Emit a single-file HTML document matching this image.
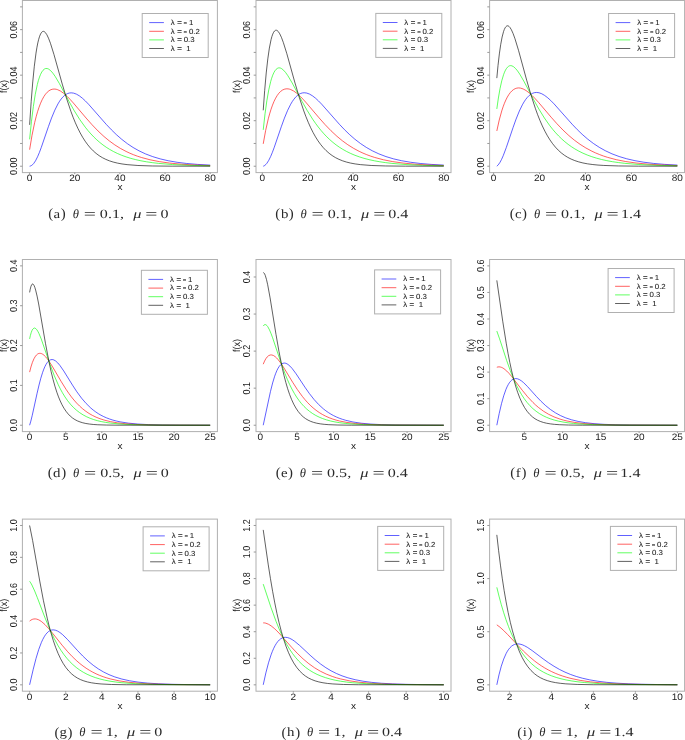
<!DOCTYPE html>
<html><head><meta charset="utf-8"><style>
html,body{margin:0;padding:0;background:#fff;}
body{width:685px;height:740px;overflow:hidden;}
svg{display:block;text-rendering:geometricPrecision;}
.r{font-family:"Liberation Sans",Arial,sans-serif;font-size:9.0px;fill:#1a1a1a;}
.rx{font-family:"Liberation Sans",Arial,sans-serif;font-size:9.4px;fill:#1a1a1a;}
.l{font-family:"Liberation Sans",Arial,sans-serif;font-size:7.4px;fill:#1a1a1a;stroke:#1a1a1a;stroke-width:0.06px;}
.c{font-family:"Liberation Serif","Times New Roman",serif;font-size:12.6px;fill:#2a2a2a;}
.i{font-style:italic;}
</style></head><body>
<svg width="685" height="740" viewBox="0 0 685 740">
<rect width="685" height="740" fill="#fff"/>
<g>
<g fill="none" stroke-width="1.0" stroke-opacity="0.62">
<path d="M29.62 166.23 30.71 165.92 31.67 165.40 32.63 164.64 33.60 163.62 35.52 160.80 37.57 156.78 39.38 152.51 41.31 147.39 48.41 126.63 51.54 118.03 54.80 110.19 57.93 103.96 59.61 101.18 61.18 98.98 62.75 97.13 64.43 95.53 66.00 94.40 67.68 93.53 69.37 93.02 71.18 92.83 73.71 93.15 76.48 94.17 79.37 95.87 82.38 98.20 85.27 100.85 88.52 104.19 106.35 124.47 111.41 129.81 116.23 134.50 121.77 139.35 127.43 143.71 133.09 147.47 138.99 150.82 145.62 153.94 152.72 156.64 160.19 158.89 168.26 160.75 177.05 162.27 186.69 163.47 197.65 164.41 210.18 165.10" stroke="#0000ff"/>
<path d="M29.62 149.67 32.03 135.25 34.68 122.52 36.13 116.75 37.57 111.69 39.02 107.29 40.58 103.19 42.15 99.73 43.84 96.64 45.52 94.16 47.21 92.23 49.01 90.71 50.94 89.66 52.87 89.13 54.92 89.07 56.24 89.28 57.69 89.72 60.58 91.13 63.71 93.34 67.20 96.45 70.09 99.40 73.35 102.99 86.11 118.05 92.02 124.71 98.04 130.97 103.94 136.47 109.36 140.95 114.78 144.87 120.32 148.35 126.10 151.45 129.84 153.19 133.57 154.75 137.43 156.18 141.52 157.51 150.07 159.79 159.35 161.62 169.59 163.07 181.15 164.18 194.40 164.99 210.18 165.55" stroke="#ff0000"/>
<path d="M29.62 139.32 31.43 121.71 33.36 106.40 35.28 94.28 37.33 84.48 38.42 80.42 39.50 77.06 40.58 74.34 41.79 72.00 42.99 70.31 44.32 69.11 45.64 68.53 46.97 68.50 47.81 68.72 48.77 69.18 50.70 70.70 52.87 73.16 55.16 76.41 59.25 83.30 69.25 101.92 74.31 110.84 79.85 119.65 85.27 127.20 88.04 130.64 90.93 133.95 93.82 136.98 96.83 139.86 99.84 142.48 102.98 144.94 106.23 147.24 109.60 149.37 113.46 151.53 117.43 153.47 121.65 155.27 126.10 156.89 130.80 158.36 135.74 159.65 140.92 160.79 146.46 161.79 152.24 162.65 158.50 163.39 172.48 164.55 189.22 165.34 210.18 165.83" stroke="#00ff00"/>
<path d="M29.62 124.84 31.19 101.35 32.75 81.91 34.32 66.20 36.01 53.08 36.85 47.87 37.81 42.92 38.66 39.40 39.62 36.25 40.58 33.94 41.55 32.40 42.63 31.51 43.11 31.37 43.71 31.40 44.44 31.72 45.28 32.45 46.85 34.71 48.53 38.23 50.46 43.31 53.95 54.45 62.26 84.10 66.36 97.84 70.94 111.51 73.10 117.27 75.39 122.85 77.80 128.18 80.21 132.96 82.62 137.23 85.15 141.21 87.80 144.85 90.45 148.02 93.22 150.88 96.11 153.42 99.12 155.65 102.37 157.65 105.75 159.35 109.36 160.82 113.21 162.06 117.43 163.10 122.01 163.95 127.07 164.63 137.91 165.49 152.24 165.97 172.12 166.17 210.18 166.22" stroke="#000000"/>
</g>
<rect x="22.40" y="0.50" width="195.00" height="172.10" fill="none" stroke="#b0b0b0" stroke-width="1.0"/>
<line x1="20.10" y1="166.23" x2="22.40" y2="166.23" stroke="#999" stroke-width="1.0"/>
<text class="r" text-anchor="middle" transform="translate(16.50,166.23) scale(1.12,1) rotate(-90)">0.00</text>
<line x1="20.10" y1="143.46" x2="22.40" y2="143.46" stroke="#999" stroke-width="1.0"/>
<line x1="20.10" y1="120.70" x2="22.40" y2="120.70" stroke="#999" stroke-width="1.0"/>
<text class="r" text-anchor="middle" transform="translate(16.50,120.70) scale(1.12,1) rotate(-90)">0.02</text>
<line x1="20.10" y1="97.93" x2="22.40" y2="97.93" stroke="#999" stroke-width="1.0"/>
<line x1="20.10" y1="75.17" x2="22.40" y2="75.17" stroke="#999" stroke-width="1.0"/>
<text class="r" text-anchor="middle" transform="translate(16.50,75.17) scale(1.12,1) rotate(-90)">0.04</text>
<line x1="20.10" y1="52.40" x2="22.40" y2="52.40" stroke="#999" stroke-width="1.0"/>
<line x1="20.10" y1="29.64" x2="22.40" y2="29.64" stroke="#999" stroke-width="1.0"/>
<text class="r" text-anchor="middle" transform="translate(16.50,29.64) scale(1.12,1) rotate(-90)">0.06</text>
<line x1="20.10" y1="6.87" x2="22.40" y2="6.87" stroke="#999" stroke-width="1.0"/>
<line x1="29.62" y1="172.60" x2="29.62" y2="174.10" stroke="#999" stroke-width="1.0"/>
<text class="rx" text-anchor="middle" transform="translate(29.62,181.20) scale(1.07,1)">0</text>
<line x1="74.76" y1="172.60" x2="74.76" y2="174.10" stroke="#999" stroke-width="1.0"/>
<text class="rx" text-anchor="middle" transform="translate(74.76,181.20) scale(1.07,1)">20</text>
<line x1="119.90" y1="172.60" x2="119.90" y2="174.10" stroke="#999" stroke-width="1.0"/>
<text class="rx" text-anchor="middle" transform="translate(119.90,181.20) scale(1.07,1)">40</text>
<line x1="165.04" y1="172.60" x2="165.04" y2="174.10" stroke="#999" stroke-width="1.0"/>
<text class="rx" text-anchor="middle" transform="translate(165.04,181.20) scale(1.07,1)">60</text>
<line x1="210.18" y1="172.60" x2="210.18" y2="174.10" stroke="#999" stroke-width="1.0"/>
<text class="rx" text-anchor="middle" transform="translate(210.18,181.20) scale(1.07,1)">80</text>
<text class="rx" text-anchor="middle" transform="translate(119.90,190.10) scale(1.07,1)">x</text>
<text class="r" text-anchor="middle" transform="translate(6.50,86.55) scale(1.12,1) rotate(-90)">f(x)</text>
<rect x="142.20" y="13.50" width="66" height="44" fill="#fff" stroke="#b0b0b0" stroke-width="1.0"/>
<g stroke-width="1.0" stroke-opacity="0.62">
<line x1="149.20" y1="22.60" x2="163.90" y2="22.60" stroke="#0000ff"/>
<line x1="149.20" y1="31.30" x2="163.90" y2="31.30" stroke="#ff0000"/>
<line x1="149.20" y1="39.90" x2="163.90" y2="39.90" stroke="#00ff00"/>
<line x1="149.20" y1="48.50" x2="163.90" y2="48.50" stroke="#000000"/>
</g>
<text class="l" transform="translate(170.75,24.90) scale(1.060,1)">λ</text>
<text class="l" transform="translate(177.22,24.90) scale(1.060,1)" style="stroke-width:0.2px">=</text>
<text class="l" transform="translate(183.53,24.90) scale(1.431,1)" style="stroke-width:0.3px">-</text>
<text class="l" transform="translate(188.90,24.90) scale(1.060,1)">1</text>
<text class="l" transform="translate(170.75,33.60) scale(1.060,1)">λ</text>
<text class="l" transform="translate(177.22,33.60) scale(1.060,1)" style="stroke-width:0.2px">=</text>
<text class="l" transform="translate(183.53,33.60) scale(1.431,1)" style="stroke-width:0.3px">-</text>
<text class="l" transform="translate(188.89,33.60) scale(1.060,1)">0.2</text>
<text class="l" transform="translate(170.75,42.20) scale(1.060,1)">λ</text>
<text class="l" transform="translate(177.22,42.20) scale(1.060,1)" style="stroke-width:0.2px">=</text>
<text class="l" transform="translate(183.69,42.20) scale(1.060,1)">0.3</text>
<text class="l" transform="translate(170.75,50.80) scale(1.060,1)">λ</text>
<text class="l" transform="translate(177.22,50.80) scale(1.060,1)" style="stroke-width:0.2px">=</text>
<text class="l" transform="translate(186.30,50.80) scale(1.060,1)">1</text>
<text class="c" transform="translate(48.29,217.95) scale(1.180,1.120)">(</text>
<text class="c" transform="translate(53.54,217.70) scale(1.180,1.000)">a</text>
<text class="c" transform="translate(60.75,217.95) scale(1.180,1.120)">)</text>
<text class="c i" transform="translate(72.63,217.70) scale(1.003,1.000)">θ</text>
<text class="c" transform="translate(83.67,217.70) scale(1.711,1.000)">=</text>
<text class="c" transform="translate(99.87,217.70) scale(1.274,1.000)">0.1,</text>
<text class="c i" transform="translate(133.16,217.70) scale(1.298,1.000)">μ</text>
<text class="c" transform="translate(145.35,217.70) scale(1.711,1.000)">=</text>
<text class="c" transform="translate(160.44,217.70) scale(1.274,1.000)">0</text>
</g>
<g>
<g fill="none" stroke-width="1.0" stroke-opacity="0.62">
<path d="M263.22 166.23 264.19 165.82 265.03 165.25 265.87 164.48 266.84 163.36 268.76 160.35 270.69 156.42 272.38 152.36 274.30 147.20 281.29 126.75 284.42 118.14 287.67 110.29 290.68 104.25 292.37 101.43 293.94 99.19 295.62 97.16 297.31 95.54 299.00 94.31 300.68 93.45 302.37 92.94 304.18 92.75 306.70 93.06 309.48 94.07 312.37 95.76 315.50 98.17 318.39 100.82 321.64 104.15 339.47 124.36 344.53 129.69 349.34 134.37 354.89 139.22 360.55 143.57 366.33 147.41 372.23 150.75 378.85 153.87 385.96 156.58 393.55 158.86 401.62 160.72 410.41 162.24 420.17 163.46 431.13 164.40 443.78 165.10" stroke="#0000ff"/>
<path d="M263.22 143.86 265.63 130.56 268.28 118.82 269.61 113.92 271.05 109.22 272.50 105.13 274.06 101.34 275.63 98.16 277.19 95.52 278.88 93.23 280.57 91.48 282.37 90.12 284.18 89.27 286.11 88.84 288.04 88.86 289.36 89.11 290.68 89.53 293.58 90.97 296.71 93.20 300.20 96.32 303.09 99.27 306.34 102.86 318.99 117.75 324.89 124.41 331.04 130.79 336.94 136.29 342.36 140.77 347.78 144.70 353.44 148.26 359.22 151.36 362.96 153.10 366.69 154.66 370.54 156.09 374.64 157.43 383.31 159.75 392.71 161.61 403.07 163.07 414.63 164.17 428.00 164.99 443.78 165.55" stroke="#ff0000"/>
<path d="M263.22 129.88 265.03 113.86 266.84 100.83 268.76 89.85 270.69 81.53 271.65 78.25 272.74 75.18 273.82 72.74 274.91 70.84 276.11 69.33 277.31 68.38 278.52 67.92 279.84 67.92 280.69 68.17 281.65 68.66 283.58 70.21 285.63 72.54 287.91 75.78 292.13 82.89 302.13 101.54 307.19 110.47 312.73 119.31 315.50 123.31 318.27 127.03 321.04 130.48 323.93 133.79 326.82 136.82 329.83 139.70 332.96 142.42 336.09 144.88 339.35 147.18 342.72 149.31 346.57 151.46 350.67 153.46 354.89 155.25 359.34 156.87 364.04 158.33 368.98 159.63 374.28 160.78 379.82 161.78 385.60 162.64 391.86 163.38 405.96 164.55 422.70 165.33 443.78 165.83" stroke="#00ff00"/>
<path d="M263.22 110.31 264.67 90.60 266.23 72.97 267.80 58.91 269.37 48.09 271.05 39.65 271.89 36.55 272.74 34.13 273.58 32.33 274.54 30.97 275.51 30.30 275.99 30.20 276.59 30.27 277.31 30.64 278.16 31.42 279.72 33.76 281.41 37.34 283.34 42.49 286.83 53.70 295.02 83.05 299.24 97.26 303.81 110.97 305.98 116.76 308.27 122.37 310.68 127.73 313.09 132.54 315.50 136.85 318.03 140.85 320.68 144.53 323.33 147.73 326.10 150.62 329.11 153.29 332.12 155.53 335.37 157.55 338.87 159.31 342.48 160.78 346.33 162.02 350.55 163.07 355.13 163.92 360.31 164.62 371.15 165.48 385.60 165.96 405.59 166.17 443.78 166.22" stroke="#000000"/>
</g>
<rect x="256.00" y="0.50" width="195.00" height="172.10" fill="none" stroke="#b0b0b0" stroke-width="1.0"/>
<line x1="253.70" y1="166.23" x2="256.00" y2="166.23" stroke="#999" stroke-width="1.0"/>
<text class="r" text-anchor="middle" transform="translate(250.10,166.23) scale(1.12,1) rotate(-90)">0.00</text>
<line x1="253.70" y1="143.46" x2="256.00" y2="143.46" stroke="#999" stroke-width="1.0"/>
<line x1="253.70" y1="120.70" x2="256.00" y2="120.70" stroke="#999" stroke-width="1.0"/>
<text class="r" text-anchor="middle" transform="translate(250.10,120.70) scale(1.12,1) rotate(-90)">0.02</text>
<line x1="253.70" y1="97.93" x2="256.00" y2="97.93" stroke="#999" stroke-width="1.0"/>
<line x1="253.70" y1="75.17" x2="256.00" y2="75.17" stroke="#999" stroke-width="1.0"/>
<text class="r" text-anchor="middle" transform="translate(250.10,75.17) scale(1.12,1) rotate(-90)">0.04</text>
<line x1="253.70" y1="52.40" x2="256.00" y2="52.40" stroke="#999" stroke-width="1.0"/>
<line x1="253.70" y1="29.64" x2="256.00" y2="29.64" stroke="#999" stroke-width="1.0"/>
<text class="r" text-anchor="middle" transform="translate(250.10,29.64) scale(1.12,1) rotate(-90)">0.06</text>
<line x1="253.70" y1="6.87" x2="256.00" y2="6.87" stroke="#999" stroke-width="1.0"/>
<line x1="262.31" y1="172.60" x2="262.31" y2="174.10" stroke="#999" stroke-width="1.0"/>
<text class="rx" text-anchor="middle" transform="translate(262.31,181.20) scale(1.07,1)">0</text>
<line x1="307.68" y1="172.60" x2="307.68" y2="174.10" stroke="#999" stroke-width="1.0"/>
<text class="rx" text-anchor="middle" transform="translate(307.68,181.20) scale(1.07,1)">20</text>
<line x1="353.05" y1="172.60" x2="353.05" y2="174.10" stroke="#999" stroke-width="1.0"/>
<text class="rx" text-anchor="middle" transform="translate(353.05,181.20) scale(1.07,1)">40</text>
<line x1="398.41" y1="172.60" x2="398.41" y2="174.10" stroke="#999" stroke-width="1.0"/>
<text class="rx" text-anchor="middle" transform="translate(398.41,181.20) scale(1.07,1)">60</text>
<line x1="443.78" y1="172.60" x2="443.78" y2="174.10" stroke="#999" stroke-width="1.0"/>
<text class="rx" text-anchor="middle" transform="translate(443.78,181.20) scale(1.07,1)">80</text>
<text class="rx" text-anchor="middle" transform="translate(353.50,190.10) scale(1.07,1)">x</text>
<text class="r" text-anchor="middle" transform="translate(240.10,86.55) scale(1.12,1) rotate(-90)">f(x)</text>
<rect x="375.80" y="13.40" width="66" height="44" fill="#fff" stroke="#b0b0b0" stroke-width="1.0"/>
<g stroke-width="1.0" stroke-opacity="0.62">
<line x1="382.80" y1="22.50" x2="397.50" y2="22.50" stroke="#0000ff"/>
<line x1="382.80" y1="31.20" x2="397.50" y2="31.20" stroke="#ff0000"/>
<line x1="382.80" y1="39.80" x2="397.50" y2="39.80" stroke="#00ff00"/>
<line x1="382.80" y1="48.40" x2="397.50" y2="48.40" stroke="#000000"/>
</g>
<text class="l" transform="translate(404.35,24.80) scale(1.060,1)">λ</text>
<text class="l" transform="translate(410.82,24.80) scale(1.060,1)" style="stroke-width:0.2px">=</text>
<text class="l" transform="translate(417.13,24.80) scale(1.431,1)" style="stroke-width:0.3px">-</text>
<text class="l" transform="translate(422.50,24.80) scale(1.060,1)">1</text>
<text class="l" transform="translate(404.35,33.50) scale(1.060,1)">λ</text>
<text class="l" transform="translate(410.82,33.50) scale(1.060,1)" style="stroke-width:0.2px">=</text>
<text class="l" transform="translate(417.13,33.50) scale(1.431,1)" style="stroke-width:0.3px">-</text>
<text class="l" transform="translate(422.49,33.50) scale(1.060,1)">0.2</text>
<text class="l" transform="translate(404.35,42.10) scale(1.060,1)">λ</text>
<text class="l" transform="translate(410.82,42.10) scale(1.060,1)" style="stroke-width:0.2px">=</text>
<text class="l" transform="translate(417.29,42.10) scale(1.060,1)">0.3</text>
<text class="l" transform="translate(404.35,50.70) scale(1.060,1)">λ</text>
<text class="l" transform="translate(410.82,50.70) scale(1.060,1)" style="stroke-width:0.2px">=</text>
<text class="l" transform="translate(419.90,50.70) scale(1.060,1)">1</text>
<text class="c" transform="translate(275.19,217.95) scale(1.180,1.120)">(</text>
<text class="c" transform="translate(280.96,217.70) scale(1.180,1.000)">b</text>
<text class="c" transform="translate(288.65,217.95) scale(1.180,1.120)">)</text>
<text class="c i" transform="translate(300.53,217.70) scale(1.003,1.000)">θ</text>
<text class="c" transform="translate(311.57,217.70) scale(1.711,1.000)">=</text>
<text class="c" transform="translate(327.76,217.70) scale(1.274,1.000)">0.1,</text>
<text class="c i" transform="translate(361.05,217.70) scale(1.298,1.000)">μ</text>
<text class="c" transform="translate(373.24,217.70) scale(1.711,1.000)">=</text>
<text class="c" transform="translate(388.34,217.70) scale(1.274,1.000)">0.4</text>
</g>
<g>
<g fill="none" stroke-width="1.0" stroke-opacity="0.62">
<path d="M496.82 166.23 498.27 164.83 499.83 162.62 501.52 159.50 503.21 155.73 506.34 147.43 513.08 127.47 516.09 119.07 519.35 111.04 522.36 104.83 524.04 101.91 525.73 99.39 527.42 97.29 529.22 95.48 530.91 94.19 532.72 93.22 534.52 92.65 536.45 92.44 538.98 92.75 541.75 93.76 544.64 95.43 547.77 97.82 550.66 100.44 554.04 103.86 572.10 124.19 577.28 129.61 582.10 134.25 587.76 139.16 593.42 143.47 599.21 147.29 605.23 150.68 611.97 153.83 619.08 156.51 626.67 158.78 634.98 160.69 643.89 162.22 653.65 163.43 664.73 164.38 677.38 165.08" stroke="#0000ff"/>
<path d="M496.82 130.98 499.23 120.08 501.76 110.89 503.09 106.86 504.41 103.32 505.86 99.97 507.30 97.12 508.75 94.72 510.31 92.58 511.88 90.90 513.44 89.63 515.13 88.68 516.82 88.12 518.62 87.92 520.43 88.09 523.08 88.92 525.97 90.49 529.10 92.82 532.48 95.90 535.25 98.75 538.50 102.34 551.15 117.21 556.93 123.73 562.95 130.01 568.85 135.55 574.39 140.16 580.05 144.30 585.84 147.95 591.86 151.18 595.59 152.93 599.45 154.53 603.42 156.01 607.52 157.34 616.19 159.66 625.70 161.54 636.06 163.00 647.87 164.14 661.36 164.96 677.38 165.54" stroke="#ff0000"/>
<path d="M496.82 108.95 498.39 97.99 500.07 88.38 501.76 80.81 503.57 74.69 504.53 72.17 505.49 70.12 506.46 68.50 507.42 67.27 508.51 66.33 509.59 65.79 510.67 65.63 511.88 65.83 513.56 66.71 515.49 68.43 517.54 70.90 519.71 74.08 523.80 81.10 533.80 99.98 538.86 109.03 544.40 117.99 549.82 125.69 552.71 129.36 555.72 132.87 558.73 136.07 561.75 139.00 564.88 141.76 568.13 144.35 571.50 146.76 574.87 148.91 578.85 151.16 582.94 153.18 587.28 155.03 591.74 156.67 596.43 158.14 601.49 159.48 606.79 160.65 612.45 161.69 618.36 162.56 624.74 163.33 638.95 164.51 655.94 165.32 677.38 165.82" stroke="#00ff00"/>
<path d="M496.82 78.11 498.03 65.45 499.35 53.93 500.68 44.70 502.12 37.00 503.57 31.53 504.29 29.54 505.13 27.79 505.86 26.75 506.70 26.03 507.54 25.79 508.39 26.00 509.11 26.51 509.83 27.28 511.40 29.78 513.08 33.52 515.01 38.82 518.50 50.31 526.69 80.23 530.91 94.74 535.49 108.77 537.65 114.71 539.94 120.47 542.35 125.98 544.88 131.17 547.41 135.80 549.94 139.90 552.59 143.67 555.36 147.09 558.25 150.16 561.26 152.88 564.40 155.25 567.65 157.30 571.14 159.09 574.75 160.59 578.73 161.89 582.94 162.96 587.64 163.85 592.82 164.56 598.00 165.07 603.78 165.45 618.36 165.95 638.59 166.16 677.38 166.22" stroke="#000000"/>
</g>
<rect x="489.60" y="0.50" width="195.00" height="172.10" fill="none" stroke="#b0b0b0" stroke-width="1.0"/>
<line x1="487.30" y1="166.23" x2="489.60" y2="166.23" stroke="#999" stroke-width="1.0"/>
<text class="r" text-anchor="middle" transform="translate(483.70,166.23) scale(1.12,1) rotate(-90)">0.00</text>
<line x1="487.30" y1="143.46" x2="489.60" y2="143.46" stroke="#999" stroke-width="1.0"/>
<line x1="487.30" y1="120.70" x2="489.60" y2="120.70" stroke="#999" stroke-width="1.0"/>
<text class="r" text-anchor="middle" transform="translate(483.70,120.70) scale(1.12,1) rotate(-90)">0.02</text>
<line x1="487.30" y1="97.93" x2="489.60" y2="97.93" stroke="#999" stroke-width="1.0"/>
<line x1="487.30" y1="75.17" x2="489.60" y2="75.17" stroke="#999" stroke-width="1.0"/>
<text class="r" text-anchor="middle" transform="translate(483.70,75.17) scale(1.12,1) rotate(-90)">0.04</text>
<line x1="487.30" y1="52.40" x2="489.60" y2="52.40" stroke="#999" stroke-width="1.0"/>
<line x1="487.30" y1="29.64" x2="489.60" y2="29.64" stroke="#999" stroke-width="1.0"/>
<text class="r" text-anchor="middle" transform="translate(483.70,29.64) scale(1.12,1) rotate(-90)">0.06</text>
<line x1="487.30" y1="6.87" x2="489.60" y2="6.87" stroke="#999" stroke-width="1.0"/>
<line x1="493.61" y1="172.60" x2="493.61" y2="174.10" stroke="#999" stroke-width="1.0"/>
<text class="rx" text-anchor="middle" transform="translate(493.61,181.20) scale(1.07,1)">0</text>
<line x1="539.55" y1="172.60" x2="539.55" y2="174.10" stroke="#999" stroke-width="1.0"/>
<text class="rx" text-anchor="middle" transform="translate(539.55,181.20) scale(1.07,1)">20</text>
<line x1="585.49" y1="172.60" x2="585.49" y2="174.10" stroke="#999" stroke-width="1.0"/>
<text class="rx" text-anchor="middle" transform="translate(585.49,181.20) scale(1.07,1)">40</text>
<line x1="631.43" y1="172.60" x2="631.43" y2="174.10" stroke="#999" stroke-width="1.0"/>
<text class="rx" text-anchor="middle" transform="translate(631.43,181.20) scale(1.07,1)">60</text>
<line x1="677.38" y1="172.60" x2="677.38" y2="174.10" stroke="#999" stroke-width="1.0"/>
<text class="rx" text-anchor="middle" transform="translate(677.38,181.20) scale(1.07,1)">80</text>
<text class="rx" text-anchor="middle" transform="translate(587.10,190.10) scale(1.07,1)">x</text>
<text class="r" text-anchor="middle" transform="translate(473.70,86.55) scale(1.12,1) rotate(-90)">f(x)</text>
<rect x="608.60" y="13.50" width="66" height="44" fill="#fff" stroke="#b0b0b0" stroke-width="1.0"/>
<g stroke-width="1.0" stroke-opacity="0.62">
<line x1="615.60" y1="22.60" x2="630.30" y2="22.60" stroke="#0000ff"/>
<line x1="615.60" y1="31.30" x2="630.30" y2="31.30" stroke="#ff0000"/>
<line x1="615.60" y1="39.90" x2="630.30" y2="39.90" stroke="#00ff00"/>
<line x1="615.60" y1="48.50" x2="630.30" y2="48.50" stroke="#000000"/>
</g>
<text class="l" transform="translate(637.15,24.90) scale(1.060,1)">λ</text>
<text class="l" transform="translate(643.62,24.90) scale(1.060,1)" style="stroke-width:0.2px">=</text>
<text class="l" transform="translate(649.93,24.90) scale(1.431,1)" style="stroke-width:0.3px">-</text>
<text class="l" transform="translate(655.30,24.90) scale(1.060,1)">1</text>
<text class="l" transform="translate(637.15,33.60) scale(1.060,1)">λ</text>
<text class="l" transform="translate(643.62,33.60) scale(1.060,1)" style="stroke-width:0.2px">=</text>
<text class="l" transform="translate(649.93,33.60) scale(1.431,1)" style="stroke-width:0.3px">-</text>
<text class="l" transform="translate(655.29,33.60) scale(1.060,1)">0.2</text>
<text class="l" transform="translate(637.15,42.20) scale(1.060,1)">λ</text>
<text class="l" transform="translate(643.62,42.20) scale(1.060,1)" style="stroke-width:0.2px">=</text>
<text class="l" transform="translate(650.09,42.20) scale(1.060,1)">0.3</text>
<text class="l" transform="translate(637.15,50.80) scale(1.060,1)">λ</text>
<text class="l" transform="translate(643.62,50.80) scale(1.060,1)" style="stroke-width:0.2px">=</text>
<text class="l" transform="translate(652.70,50.80) scale(1.060,1)">1</text>
<text class="c" transform="translate(509.83,217.95) scale(1.180,1.120)">(</text>
<text class="c" transform="translate(515.04,217.70) scale(1.180,1.000)">c</text>
<text class="c" transform="translate(522.00,217.95) scale(1.180,1.120)">)</text>
<text class="c i" transform="translate(533.88,217.70) scale(1.003,1.000)">θ</text>
<text class="c" transform="translate(544.92,217.70) scale(1.711,1.000)">=</text>
<text class="c" transform="translate(561.11,217.70) scale(1.274,1.000)">0.1,</text>
<text class="c i" transform="translate(594.41,217.70) scale(1.298,1.000)">μ</text>
<text class="c" transform="translate(606.60,217.70) scale(1.711,1.000)">=</text>
<text class="c" transform="translate(620.89,217.70) scale(1.274,1.000)">1.4</text>
</g>
<g>
<g fill="none" stroke-width="1.0" stroke-opacity="0.62">
<path d="M29.62 425.23 30.83 421.11 32.27 415.28 37.09 393.31 39.02 385.06 40.82 378.20 42.63 372.37 43.84 369.10 44.92 366.59 46.00 364.48 47.21 362.61 48.29 361.33 49.50 360.33 50.70 359.74 52.03 359.54 52.87 359.63 53.83 359.93 55.64 360.99 57.69 362.84 59.86 365.39 63.71 370.93 72.50 385.14 76.84 391.75 81.54 398.13 86.11 403.46 90.81 408.04 93.22 410.05 95.75 411.95 98.28 413.63 100.93 415.18 103.70 416.60 106.47 417.83 109.60 419.03 112.85 420.08 116.35 421.01 120.08 421.84 128.27 423.13 137.79 424.04 148.63 424.61 162.48 424.97 180.91 425.14 210.18 425.21" stroke="#0000ff"/>
<path d="M29.62 372.11 30.95 366.96 32.39 362.47 33.96 358.76 35.52 356.13 36.37 355.10 37.21 354.32 38.05 353.78 38.90 353.45 39.74 353.32 40.70 353.40 41.67 353.70 42.75 354.27 44.08 355.27 45.52 356.69 47.09 358.55 48.77 360.84 52.15 366.09 61.30 381.73 66.12 389.43 68.77 393.31 71.42 396.90 73.95 400.04 76.60 403.04 79.61 406.09 82.62 408.78 85.87 411.32 89.12 413.50 92.50 415.44 96.11 417.19 99.97 418.73 103.94 420.03 110.32 421.61 117.55 422.85 125.86 423.77 135.62 424.41 146.70 424.81 160.79 425.05 210.18 425.22" stroke="#ff0000"/>
<path d="M29.62 338.91 30.34 335.62 31.19 332.63 32.03 330.48 32.87 329.05 33.84 328.21 34.32 328.07 34.80 328.09 35.77 328.59 36.85 329.77 37.81 331.28 38.90 333.38 41.19 338.88 50.10 364.59 54.31 375.73 58.29 384.80 60.34 388.91 62.38 392.66 65.03 396.99 67.68 400.79 70.45 404.24 73.35 407.35 76.36 410.11 79.61 412.63 83.10 414.89 86.72 416.80 90.09 418.28 93.58 419.54 97.32 420.64 101.29 421.58 105.63 422.39 110.32 423.07 121.04 424.08 133.21 424.68 149.23 425.02 171.15 425.17 210.18 425.22" stroke="#00ff00"/>
<path d="M29.62 292.43 30.22 289.19 30.95 286.41 31.67 284.73 32.03 284.26 32.39 284.02 32.75 284.00 33.12 284.18 33.96 285.30 34.80 287.31 35.64 290.05 37.09 296.08 38.66 303.99 45.52 343.67 49.14 362.55 51.06 371.36 52.99 379.23 54.92 386.19 56.84 392.26 58.53 396.90 60.22 400.97 62.02 404.75 63.95 408.20 66.00 411.28 68.05 413.84 70.21 416.07 72.62 418.07 74.91 419.58 77.32 420.85 79.97 421.92 82.74 422.78 85.87 423.49 89.37 424.04 93.22 424.46 97.80 424.77 106.71 425.06 119.96 425.19 210.18 425.23" stroke="#000000"/>
</g>
<rect x="22.40" y="259.50" width="195.00" height="172.10" fill="none" stroke="#b0b0b0" stroke-width="1.0"/>
<line x1="20.10" y1="425.23" x2="22.40" y2="425.23" stroke="#999" stroke-width="1.0"/>
<text class="r" text-anchor="middle" transform="translate(16.50,425.23) scale(1.12,1) rotate(-90)">0.0</text>
<line x1="20.10" y1="385.39" x2="22.40" y2="385.39" stroke="#999" stroke-width="1.0"/>
<text class="r" text-anchor="middle" transform="translate(16.50,385.39) scale(1.12,1) rotate(-90)">0.1</text>
<line x1="20.10" y1="345.55" x2="22.40" y2="345.55" stroke="#999" stroke-width="1.0"/>
<text class="r" text-anchor="middle" transform="translate(16.50,345.55) scale(1.12,1) rotate(-90)">0.2</text>
<line x1="20.10" y1="305.71" x2="22.40" y2="305.71" stroke="#999" stroke-width="1.0"/>
<text class="r" text-anchor="middle" transform="translate(16.50,305.71) scale(1.12,1) rotate(-90)">0.3</text>
<line x1="20.10" y1="265.87" x2="22.40" y2="265.87" stroke="#999" stroke-width="1.0"/>
<text class="r" text-anchor="middle" transform="translate(16.50,265.87) scale(1.12,1) rotate(-90)">0.4</text>
<line x1="29.62" y1="431.60" x2="29.62" y2="433.10" stroke="#999" stroke-width="1.0"/>
<text class="rx" text-anchor="middle" transform="translate(29.62,440.20) scale(1.07,1)">0</text>
<line x1="65.73" y1="431.60" x2="65.73" y2="433.10" stroke="#999" stroke-width="1.0"/>
<text class="rx" text-anchor="middle" transform="translate(65.73,440.20) scale(1.07,1)">5</text>
<line x1="101.84" y1="431.60" x2="101.84" y2="433.10" stroke="#999" stroke-width="1.0"/>
<text class="rx" text-anchor="middle" transform="translate(101.84,440.20) scale(1.07,1)">10</text>
<line x1="137.96" y1="431.60" x2="137.96" y2="433.10" stroke="#999" stroke-width="1.0"/>
<text class="rx" text-anchor="middle" transform="translate(137.96,440.20) scale(1.07,1)">15</text>
<line x1="174.07" y1="431.60" x2="174.07" y2="433.10" stroke="#999" stroke-width="1.0"/>
<text class="rx" text-anchor="middle" transform="translate(174.07,440.20) scale(1.07,1)">20</text>
<line x1="210.18" y1="431.60" x2="210.18" y2="433.10" stroke="#999" stroke-width="1.0"/>
<text class="rx" text-anchor="middle" transform="translate(210.18,440.20) scale(1.07,1)">25</text>
<text class="rx" text-anchor="middle" transform="translate(119.90,449.10) scale(1.07,1)">x</text>
<text class="r" text-anchor="middle" transform="translate(6.50,345.55) scale(1.12,1) rotate(-90)">f(x)</text>
<rect x="141.40" y="270.30" width="66" height="44" fill="#fff" stroke="#b0b0b0" stroke-width="1.0"/>
<g stroke-width="1.0" stroke-opacity="0.62">
<line x1="148.40" y1="279.40" x2="163.10" y2="279.40" stroke="#0000ff"/>
<line x1="148.40" y1="288.10" x2="163.10" y2="288.10" stroke="#ff0000"/>
<line x1="148.40" y1="296.70" x2="163.10" y2="296.70" stroke="#00ff00"/>
<line x1="148.40" y1="305.30" x2="163.10" y2="305.30" stroke="#000000"/>
</g>
<text class="l" transform="translate(169.95,281.70) scale(1.060,1)">λ</text>
<text class="l" transform="translate(176.42,281.70) scale(1.060,1)" style="stroke-width:0.2px">=</text>
<text class="l" transform="translate(182.73,281.70) scale(1.431,1)" style="stroke-width:0.3px">-</text>
<text class="l" transform="translate(188.10,281.70) scale(1.060,1)">1</text>
<text class="l" transform="translate(169.95,290.40) scale(1.060,1)">λ</text>
<text class="l" transform="translate(176.42,290.40) scale(1.060,1)" style="stroke-width:0.2px">=</text>
<text class="l" transform="translate(182.73,290.40) scale(1.431,1)" style="stroke-width:0.3px">-</text>
<text class="l" transform="translate(188.09,290.40) scale(1.060,1)">0.2</text>
<text class="l" transform="translate(169.95,299.00) scale(1.060,1)">λ</text>
<text class="l" transform="translate(176.42,299.00) scale(1.060,1)" style="stroke-width:0.2px">=</text>
<text class="l" transform="translate(182.89,299.00) scale(1.060,1)">0.3</text>
<text class="l" transform="translate(169.95,307.60) scale(1.060,1)">λ</text>
<text class="l" transform="translate(176.42,307.60) scale(1.060,1)" style="stroke-width:0.2px">=</text>
<text class="l" transform="translate(185.50,307.60) scale(1.060,1)">1</text>
<text class="c" transform="translate(47.87,476.95) scale(1.180,1.120)">(</text>
<text class="c" transform="translate(53.10,476.70) scale(1.180,1.000)">d</text>
<text class="c" transform="translate(61.17,476.95) scale(1.180,1.120)">)</text>
<text class="c i" transform="translate(73.05,476.70) scale(1.003,1.000)">θ</text>
<text class="c" transform="translate(84.09,476.70) scale(1.711,1.000)">=</text>
<text class="c" transform="translate(100.29,476.70) scale(1.274,1.000)">0.5,</text>
<text class="c i" transform="translate(133.58,476.70) scale(1.298,1.000)">μ</text>
<text class="c" transform="translate(145.77,476.70) scale(1.711,1.000)">=</text>
<text class="c" transform="translate(160.86,476.70) scale(1.274,1.000)">0</text>
</g>
<g>
<g fill="none" stroke-width="1.0" stroke-opacity="0.62">
<path d="M263.22 425.23 270.45 391.58 272.62 382.99 274.67 376.25 275.75 373.27 276.95 370.43 278.16 368.09 279.36 366.23 280.57 364.83 281.77 363.85 282.98 363.28 284.30 363.07 285.14 363.14 286.11 363.41 287.91 364.38 289.96 366.10 292.13 368.48 296.11 373.83 304.90 387.15 309.35 393.51 314.05 399.49 318.63 404.50 323.45 408.90 325.86 410.79 328.39 412.56 330.92 414.14 333.57 415.61 336.34 416.95 339.23 418.16 342.36 419.29 345.73 420.31 352.96 421.97 361.27 423.22 370.91 424.09 381.87 424.64 395.84 424.97 443.78 425.21" stroke="#0000ff"/>
<path d="M263.22 364.19 264.55 361.08 265.87 358.68 267.20 356.92 268.64 355.67 270.21 355.00 271.77 354.96 273.46 355.53 275.15 356.63 276.47 357.82 277.80 359.24 280.69 362.98 283.94 367.91 292.73 382.37 297.31 389.46 302.37 396.45 304.78 399.42 307.31 402.29 310.20 405.25 313.09 407.89 316.10 410.32 319.23 412.53 322.36 414.44 325.74 416.21 329.23 417.75 332.84 419.09 336.09 420.10 339.59 421.01 347.06 422.46 355.61 423.54 365.73 424.30 377.17 424.76 391.86 425.03 443.78 425.22" stroke="#ff0000"/>
<path d="M263.22 326.04 263.94 325.12 264.67 324.65 265.39 324.59 266.11 324.88 266.84 325.49 267.68 326.56 269.49 329.86 270.93 333.25 272.62 337.78 280.57 361.55 284.90 373.43 287.31 379.32 289.60 384.41 291.89 389.01 294.30 393.36 296.59 397.04 299.00 400.49 301.53 403.68 304.05 406.47 306.70 409.02 309.60 411.42 312.61 413.55 315.74 415.43 319.11 417.12 322.60 418.57 326.46 419.87 330.55 420.99 335.01 421.94 339.83 422.73 345.13 423.39 350.91 423.92 363.44 424.60 379.94 424.99 402.70 425.17 443.78 425.22" stroke="#00ff00"/>
<path d="M263.22 272.63 263.70 272.74 264.19 273.21 264.67 274.00 265.27 275.41 266.47 279.44 267.68 284.73 270.09 297.85 275.99 334.39 279.00 351.65 282.37 368.39 284.06 375.64 285.87 382.59 287.67 388.73 289.60 394.45 291.65 399.66 293.70 404.08 295.86 408.00 298.15 411.42 300.56 414.33 303.21 416.87 305.50 418.60 308.03 420.12 310.68 421.36 313.57 422.38 316.70 423.19 320.20 423.83 324.17 424.32 328.87 424.69 337.90 425.03 351.51 425.19 443.78 425.23" stroke="#000000"/>
</g>
<rect x="256.00" y="259.50" width="195.00" height="172.10" fill="none" stroke="#b0b0b0" stroke-width="1.0"/>
<line x1="253.70" y1="425.23" x2="256.00" y2="425.23" stroke="#999" stroke-width="1.0"/>
<text class="r" text-anchor="middle" transform="translate(250.10,425.23) scale(1.12,1) rotate(-90)">0.0</text>
<line x1="253.70" y1="388.17" x2="256.00" y2="388.17" stroke="#999" stroke-width="1.0"/>
<text class="r" text-anchor="middle" transform="translate(250.10,388.17) scale(1.12,1) rotate(-90)">0.1</text>
<line x1="253.70" y1="351.11" x2="256.00" y2="351.11" stroke="#999" stroke-width="1.0"/>
<text class="r" text-anchor="middle" transform="translate(250.10,351.11) scale(1.12,1) rotate(-90)">0.2</text>
<line x1="253.70" y1="314.05" x2="256.00" y2="314.05" stroke="#999" stroke-width="1.0"/>
<text class="r" text-anchor="middle" transform="translate(250.10,314.05) scale(1.12,1) rotate(-90)">0.3</text>
<line x1="253.70" y1="276.99" x2="256.00" y2="276.99" stroke="#999" stroke-width="1.0"/>
<text class="r" text-anchor="middle" transform="translate(250.10,276.99) scale(1.12,1) rotate(-90)">0.4</text>
<line x1="260.29" y1="431.60" x2="260.29" y2="433.10" stroke="#999" stroke-width="1.0"/>
<text class="rx" text-anchor="middle" transform="translate(260.29,440.20) scale(1.07,1)">0</text>
<line x1="296.98" y1="431.60" x2="296.98" y2="433.10" stroke="#999" stroke-width="1.0"/>
<text class="rx" text-anchor="middle" transform="translate(296.98,440.20) scale(1.07,1)">5</text>
<line x1="333.68" y1="431.60" x2="333.68" y2="433.10" stroke="#999" stroke-width="1.0"/>
<text class="rx" text-anchor="middle" transform="translate(333.68,440.20) scale(1.07,1)">10</text>
<line x1="370.38" y1="431.60" x2="370.38" y2="433.10" stroke="#999" stroke-width="1.0"/>
<text class="rx" text-anchor="middle" transform="translate(370.38,440.20) scale(1.07,1)">15</text>
<line x1="407.08" y1="431.60" x2="407.08" y2="433.10" stroke="#999" stroke-width="1.0"/>
<text class="rx" text-anchor="middle" transform="translate(407.08,440.20) scale(1.07,1)">20</text>
<line x1="443.78" y1="431.60" x2="443.78" y2="433.10" stroke="#999" stroke-width="1.0"/>
<text class="rx" text-anchor="middle" transform="translate(443.78,440.20) scale(1.07,1)">25</text>
<text class="rx" text-anchor="middle" transform="translate(353.50,449.10) scale(1.07,1)">x</text>
<text class="r" text-anchor="middle" transform="translate(240.10,345.55) scale(1.12,1) rotate(-90)">f(x)</text>
<rect x="374.60" y="269.90" width="66" height="44" fill="#fff" stroke="#b0b0b0" stroke-width="1.0"/>
<g stroke-width="1.0" stroke-opacity="0.62">
<line x1="381.60" y1="279.00" x2="396.30" y2="279.00" stroke="#0000ff"/>
<line x1="381.60" y1="287.70" x2="396.30" y2="287.70" stroke="#ff0000"/>
<line x1="381.60" y1="296.30" x2="396.30" y2="296.30" stroke="#00ff00"/>
<line x1="381.60" y1="304.90" x2="396.30" y2="304.90" stroke="#000000"/>
</g>
<text class="l" transform="translate(403.15,281.30) scale(1.060,1)">λ</text>
<text class="l" transform="translate(409.62,281.30) scale(1.060,1)" style="stroke-width:0.2px">=</text>
<text class="l" transform="translate(415.93,281.30) scale(1.431,1)" style="stroke-width:0.3px">-</text>
<text class="l" transform="translate(421.30,281.30) scale(1.060,1)">1</text>
<text class="l" transform="translate(403.15,290.00) scale(1.060,1)">λ</text>
<text class="l" transform="translate(409.62,290.00) scale(1.060,1)" style="stroke-width:0.2px">=</text>
<text class="l" transform="translate(415.93,290.00) scale(1.431,1)" style="stroke-width:0.3px">-</text>
<text class="l" transform="translate(421.29,290.00) scale(1.060,1)">0.2</text>
<text class="l" transform="translate(403.15,298.60) scale(1.060,1)">λ</text>
<text class="l" transform="translate(409.62,298.60) scale(1.060,1)" style="stroke-width:0.2px">=</text>
<text class="l" transform="translate(416.09,298.60) scale(1.060,1)">0.3</text>
<text class="l" transform="translate(403.15,307.20) scale(1.060,1)">λ</text>
<text class="l" transform="translate(409.62,307.20) scale(1.060,1)" style="stroke-width:0.2px">=</text>
<text class="l" transform="translate(418.70,307.20) scale(1.060,1)">1</text>
<text class="c" transform="translate(275.87,476.95) scale(1.180,1.120)">(</text>
<text class="c" transform="translate(281.06,476.70) scale(1.180,1.000)">e</text>
<text class="c" transform="translate(287.97,476.95) scale(1.180,1.120)">)</text>
<text class="c i" transform="translate(299.85,476.70) scale(1.003,1.000)">θ</text>
<text class="c" transform="translate(310.88,476.70) scale(1.711,1.000)">=</text>
<text class="c" transform="translate(327.08,476.70) scale(1.274,1.000)">0.5,</text>
<text class="c i" transform="translate(360.37,476.70) scale(1.298,1.000)">μ</text>
<text class="c" transform="translate(372.56,476.70) scale(1.711,1.000)">=</text>
<text class="c" transform="translate(387.66,476.70) scale(1.274,1.000)">0.4</text>
</g>
<g>
<g fill="none" stroke-width="1.0" stroke-opacity="0.62">
<path d="M496.82 425.23 499.23 413.39 501.52 403.59 503.69 395.83 505.98 389.33 507.06 386.85 508.27 384.52 509.35 382.79 510.55 381.25 511.76 380.09 513.08 379.21 514.41 378.71 515.73 378.56 517.54 378.82 519.35 379.56 521.39 380.85 523.56 382.62 527.42 386.44 536.45 396.51 540.91 401.18 545.73 405.69 550.42 409.47 555.36 412.79 560.42 415.56 565.72 417.86 571.50 419.79 578.13 421.42 585.59 422.70 594.03 423.65 604.02 424.33 615.23 424.76 629.44 425.02 677.38 425.21" stroke="#0000ff"/>
<path d="M496.82 367.28 497.91 366.96 498.99 366.85 500.19 366.97 501.40 367.32 502.60 367.87 503.93 368.68 506.82 371.09 509.11 373.48 511.76 376.61 522.36 390.39 527.54 396.69 532.96 402.49 535.61 405.00 538.38 407.39 543.32 411.08 548.50 414.23 554.04 416.90 559.94 419.09 563.43 420.12 567.04 421.01 574.87 422.46 583.91 423.55 594.63 424.31 606.67 424.76 622.09 425.04 677.38 425.22" stroke="#ff0000"/>
<path d="M496.82 331.06 499.59 338.85 506.70 360.56 510.19 370.38 512.48 376.23 514.65 381.31 516.82 385.95 519.11 390.38 521.64 394.74 524.28 398.76 527.06 402.43 529.95 405.72 532.96 408.66 536.09 411.26 539.46 413.60 543.08 415.68 546.57 417.34 550.18 418.76 554.16 420.03 558.37 421.10 562.95 422.02 568.01 422.81 573.55 423.45 579.57 423.96 592.70 424.62 610.05 425.00 634.02 425.17 677.38 425.22" stroke="#00ff00"/>
<path d="M496.82 280.36 502.72 321.20 506.22 343.19 508.02 353.33 509.83 362.56 511.64 370.87 513.56 378.74 515.61 386.05 517.66 392.36 519.83 398.06 522.12 403.11 524.53 407.50 527.06 411.24 529.71 414.36 532.60 417.02 535.01 418.75 537.53 420.19 540.30 421.42 543.32 422.43 546.57 423.23 550.30 423.87 554.40 424.35 559.22 424.70 568.61 425.04 582.70 425.19 677.38 425.23" stroke="#000000"/>
</g>
<rect x="489.60" y="259.50" width="195.00" height="172.10" fill="none" stroke="#b0b0b0" stroke-width="1.0"/>
<line x1="487.30" y1="425.23" x2="489.60" y2="425.23" stroke="#999" stroke-width="1.0"/>
<text class="r" text-anchor="middle" transform="translate(483.70,425.23) scale(1.12,1) rotate(-90)">0.0</text>
<line x1="487.30" y1="398.67" x2="489.60" y2="398.67" stroke="#999" stroke-width="1.0"/>
<text class="r" text-anchor="middle" transform="translate(483.70,398.67) scale(1.12,1) rotate(-90)">0.1</text>
<line x1="487.30" y1="372.11" x2="489.60" y2="372.11" stroke="#999" stroke-width="1.0"/>
<text class="r" text-anchor="middle" transform="translate(483.70,372.11) scale(1.12,1) rotate(-90)">0.2</text>
<line x1="487.30" y1="345.55" x2="489.60" y2="345.55" stroke="#999" stroke-width="1.0"/>
<text class="r" text-anchor="middle" transform="translate(483.70,345.55) scale(1.12,1) rotate(-90)">0.3</text>
<line x1="487.30" y1="318.99" x2="489.60" y2="318.99" stroke="#999" stroke-width="1.0"/>
<text class="r" text-anchor="middle" transform="translate(483.70,318.99) scale(1.12,1) rotate(-90)">0.4</text>
<line x1="487.30" y1="292.43" x2="489.60" y2="292.43" stroke="#999" stroke-width="1.0"/>
<text class="r" text-anchor="middle" transform="translate(483.70,292.43) scale(1.12,1) rotate(-90)">0.5</text>
<line x1="487.30" y1="265.87" x2="489.60" y2="265.87" stroke="#999" stroke-width="1.0"/>
<text class="r" text-anchor="middle" transform="translate(483.70,265.87) scale(1.12,1) rotate(-90)">0.6</text>
<line x1="524.36" y1="431.60" x2="524.36" y2="433.10" stroke="#999" stroke-width="1.0"/>
<text class="rx" text-anchor="middle" transform="translate(524.36,440.20) scale(1.07,1)">5</text>
<line x1="562.62" y1="431.60" x2="562.62" y2="433.10" stroke="#999" stroke-width="1.0"/>
<text class="rx" text-anchor="middle" transform="translate(562.62,440.20) scale(1.07,1)">10</text>
<line x1="600.87" y1="431.60" x2="600.87" y2="433.10" stroke="#999" stroke-width="1.0"/>
<text class="rx" text-anchor="middle" transform="translate(600.87,440.20) scale(1.07,1)">15</text>
<line x1="639.12" y1="431.60" x2="639.12" y2="433.10" stroke="#999" stroke-width="1.0"/>
<text class="rx" text-anchor="middle" transform="translate(639.12,440.20) scale(1.07,1)">20</text>
<line x1="677.38" y1="431.60" x2="677.38" y2="433.10" stroke="#999" stroke-width="1.0"/>
<text class="rx" text-anchor="middle" transform="translate(677.38,440.20) scale(1.07,1)">25</text>
<text class="rx" text-anchor="middle" transform="translate(587.10,449.10) scale(1.07,1)">x</text>
<text class="r" text-anchor="middle" transform="translate(473.70,345.55) scale(1.12,1) rotate(-90)">f(x)</text>
<rect x="608.10" y="268.50" width="66" height="44" fill="#fff" stroke="#b0b0b0" stroke-width="1.0"/>
<g stroke-width="1.0" stroke-opacity="0.62">
<line x1="615.10" y1="277.60" x2="629.80" y2="277.60" stroke="#0000ff"/>
<line x1="615.10" y1="286.30" x2="629.80" y2="286.30" stroke="#ff0000"/>
<line x1="615.10" y1="294.90" x2="629.80" y2="294.90" stroke="#00ff00"/>
<line x1="615.10" y1="303.50" x2="629.80" y2="303.50" stroke="#000000"/>
</g>
<text class="l" transform="translate(636.65,279.90) scale(1.060,1)">λ</text>
<text class="l" transform="translate(643.12,279.90) scale(1.060,1)" style="stroke-width:0.2px">=</text>
<text class="l" transform="translate(649.43,279.90) scale(1.431,1)" style="stroke-width:0.3px">-</text>
<text class="l" transform="translate(654.80,279.90) scale(1.060,1)">1</text>
<text class="l" transform="translate(636.65,288.60) scale(1.060,1)">λ</text>
<text class="l" transform="translate(643.12,288.60) scale(1.060,1)" style="stroke-width:0.2px">=</text>
<text class="l" transform="translate(649.43,288.60) scale(1.431,1)" style="stroke-width:0.3px">-</text>
<text class="l" transform="translate(654.79,288.60) scale(1.060,1)">0.2</text>
<text class="l" transform="translate(636.65,297.20) scale(1.060,1)">λ</text>
<text class="l" transform="translate(643.12,297.20) scale(1.060,1)" style="stroke-width:0.2px">=</text>
<text class="l" transform="translate(649.59,297.20) scale(1.060,1)">0.3</text>
<text class="l" transform="translate(636.65,305.80) scale(1.060,1)">λ</text>
<text class="l" transform="translate(643.12,305.80) scale(1.060,1)" style="stroke-width:0.2px">=</text>
<text class="l" transform="translate(652.20,305.80) scale(1.060,1)">1</text>
<text class="c" transform="translate(510.37,476.95) scale(1.180,1.120)">(</text>
<text class="c" transform="translate(515.69,476.70) scale(1.180,1.000)">f</text>
<text class="c" transform="translate(521.46,476.95) scale(1.180,1.120)">)</text>
<text class="c i" transform="translate(533.34,476.70) scale(1.003,1.000)">θ</text>
<text class="c" transform="translate(544.38,476.70) scale(1.711,1.000)">=</text>
<text class="c" transform="translate(560.57,476.70) scale(1.274,1.000)">0.5,</text>
<text class="c i" transform="translate(593.86,476.70) scale(1.298,1.000)">μ</text>
<text class="c" transform="translate(606.06,476.70) scale(1.711,1.000)">=</text>
<text class="c" transform="translate(620.35,476.70) scale(1.274,1.000)">1.4</text>
</g>
<g>
<g fill="none" stroke-width="1.0" stroke-opacity="0.62">
<path d="M29.62 684.83 33.24 669.25 36.01 658.52 38.78 649.39 41.43 642.35 42.75 639.47 44.20 636.80 45.64 634.60 47.09 632.87 48.53 631.55 50.10 630.58 51.66 630.02 53.23 629.86 55.28 630.15 57.57 631.05 59.98 632.54 62.63 634.67 67.44 639.42 77.68 650.71 82.74 656.00 88.04 661.01 93.22 665.28 98.28 668.85 103.58 672.00 109.00 674.65 114.78 676.92 121.77 679.04 129.48 680.76 138.03 682.10 147.78 683.11 158.75 683.81 171.87 684.29 188.14 684.59 210.18 684.75" stroke="#0000ff"/>
<path d="M29.62 621.09 30.95 620.08 32.39 619.35 33.84 618.97 35.28 618.91 36.73 619.13 38.29 619.66 39.98 620.54 41.67 621.69 45.04 624.64 48.89 628.80 52.51 633.15 62.14 645.23 67.68 651.73 72.26 656.60 76.84 660.96 79.85 663.54 82.98 665.98 86.11 668.19 89.37 670.25 92.74 672.15 96.11 673.83 99.60 675.36 103.22 676.73 106.83 677.92 110.69 679.01 119.00 680.83 128.15 682.21 138.75 683.23 150.80 683.93 165.37 684.38 183.92 684.65 210.18 684.78" stroke="#ff0000"/>
<path d="M29.62 581.25 30.71 582.86 31.91 585.01 34.68 591.03 37.33 597.65 45.04 617.88 49.74 629.17 53.95 638.11 58.17 645.85 60.94 650.31 63.83 654.46 66.72 658.14 69.73 661.52 72.86 664.60 76.24 667.47 79.73 670.03 83.34 672.28 87.08 674.25 91.05 676.02 95.27 677.58 99.84 678.96 104.66 680.13 109.96 681.16 115.62 682.01 121.89 682.73 135.50 683.73 152.60 684.34 175.13 684.67 210.18 684.80" stroke="#00ff00"/>
<path d="M29.62 525.47 32.63 540.53 39.74 581.04 43.35 600.22 47.21 618.14 49.14 626.01 51.06 633.15 53.35 640.71 55.64 647.33 58.05 653.37 60.58 658.78 63.11 663.35 65.88 667.51 68.77 671.06 71.78 674.03 74.43 676.14 77.32 677.99 80.45 679.58 83.83 680.89 87.44 681.94 91.41 682.79 95.87 683.45 101.05 683.96 111.41 684.49 126.22 684.74 210.18 684.83" stroke="#000000"/>
</g>
<rect x="22.40" y="519.10" width="195.00" height="172.10" fill="none" stroke="#b0b0b0" stroke-width="1.0"/>
<line x1="20.10" y1="684.83" x2="22.40" y2="684.83" stroke="#999" stroke-width="1.0"/>
<text class="r" text-anchor="middle" transform="translate(16.50,684.83) scale(1.12,1) rotate(-90)">0.0</text>
<line x1="20.10" y1="652.96" x2="22.40" y2="652.96" stroke="#999" stroke-width="1.0"/>
<text class="r" text-anchor="middle" transform="translate(16.50,652.96) scale(1.12,1) rotate(-90)">0.2</text>
<line x1="20.10" y1="621.09" x2="22.40" y2="621.09" stroke="#999" stroke-width="1.0"/>
<text class="r" text-anchor="middle" transform="translate(16.50,621.09) scale(1.12,1) rotate(-90)">0.4</text>
<line x1="20.10" y1="589.21" x2="22.40" y2="589.21" stroke="#999" stroke-width="1.0"/>
<text class="r" text-anchor="middle" transform="translate(16.50,589.21) scale(1.12,1) rotate(-90)">0.6</text>
<line x1="20.10" y1="557.34" x2="22.40" y2="557.34" stroke="#999" stroke-width="1.0"/>
<text class="r" text-anchor="middle" transform="translate(16.50,557.34) scale(1.12,1) rotate(-90)">0.8</text>
<line x1="20.10" y1="525.47" x2="22.40" y2="525.47" stroke="#999" stroke-width="1.0"/>
<text class="r" text-anchor="middle" transform="translate(16.50,525.47) scale(1.12,1) rotate(-90)">1.0</text>
<line x1="29.62" y1="691.20" x2="29.62" y2="692.70" stroke="#999" stroke-width="1.0"/>
<text class="rx" text-anchor="middle" transform="translate(29.62,699.80) scale(1.07,1)">0</text>
<line x1="65.73" y1="691.20" x2="65.73" y2="692.70" stroke="#999" stroke-width="1.0"/>
<text class="rx" text-anchor="middle" transform="translate(65.73,699.80) scale(1.07,1)">2</text>
<line x1="101.84" y1="691.20" x2="101.84" y2="692.70" stroke="#999" stroke-width="1.0"/>
<text class="rx" text-anchor="middle" transform="translate(101.84,699.80) scale(1.07,1)">4</text>
<line x1="137.96" y1="691.20" x2="137.96" y2="692.70" stroke="#999" stroke-width="1.0"/>
<text class="rx" text-anchor="middle" transform="translate(137.96,699.80) scale(1.07,1)">6</text>
<line x1="174.07" y1="691.20" x2="174.07" y2="692.70" stroke="#999" stroke-width="1.0"/>
<text class="rx" text-anchor="middle" transform="translate(174.07,699.80) scale(1.07,1)">8</text>
<line x1="210.18" y1="691.20" x2="210.18" y2="692.70" stroke="#999" stroke-width="1.0"/>
<text class="rx" text-anchor="middle" transform="translate(210.18,699.80) scale(1.07,1)">10</text>
<text class="rx" text-anchor="middle" transform="translate(119.90,708.70) scale(1.07,1)">x</text>
<text class="r" text-anchor="middle" transform="translate(6.50,605.15) scale(1.12,1) rotate(-90)">f(x)</text>
<rect x="143.10" y="526.80" width="66" height="44" fill="#fff" stroke="#b0b0b0" stroke-width="1.0"/>
<g stroke-width="1.0" stroke-opacity="0.62">
<line x1="150.10" y1="535.90" x2="164.80" y2="535.90" stroke="#0000ff"/>
<line x1="150.10" y1="544.60" x2="164.80" y2="544.60" stroke="#ff0000"/>
<line x1="150.10" y1="553.20" x2="164.80" y2="553.20" stroke="#00ff00"/>
<line x1="150.10" y1="561.80" x2="164.80" y2="561.80" stroke="#000000"/>
</g>
<text class="l" transform="translate(171.65,538.20) scale(1.060,1)">λ</text>
<text class="l" transform="translate(178.12,538.20) scale(1.060,1)" style="stroke-width:0.2px">=</text>
<text class="l" transform="translate(184.43,538.20) scale(1.431,1)" style="stroke-width:0.3px">-</text>
<text class="l" transform="translate(189.80,538.20) scale(1.060,1)">1</text>
<text class="l" transform="translate(171.65,546.90) scale(1.060,1)">λ</text>
<text class="l" transform="translate(178.12,546.90) scale(1.060,1)" style="stroke-width:0.2px">=</text>
<text class="l" transform="translate(184.43,546.90) scale(1.431,1)" style="stroke-width:0.3px">-</text>
<text class="l" transform="translate(189.79,546.90) scale(1.060,1)">0.2</text>
<text class="l" transform="translate(171.65,555.50) scale(1.060,1)">λ</text>
<text class="l" transform="translate(178.12,555.50) scale(1.060,1)" style="stroke-width:0.2px">=</text>
<text class="l" transform="translate(184.59,555.50) scale(1.060,1)">0.3</text>
<text class="l" transform="translate(171.65,564.10) scale(1.060,1)">λ</text>
<text class="l" transform="translate(178.12,564.10) scale(1.060,1)" style="stroke-width:0.2px">=</text>
<text class="l" transform="translate(187.20,564.10) scale(1.060,1)">1</text>
<text class="c" transform="translate(54.39,736.55) scale(1.180,1.120)">(</text>
<text class="c" transform="translate(59.52,736.30) scale(1.180,1.000)">g</text>
<text class="c" transform="translate(67.49,736.55) scale(1.180,1.120)">)</text>
<text class="c i" transform="translate(79.37,736.30) scale(1.003,1.000)">θ</text>
<text class="c" transform="translate(90.41,736.30) scale(1.711,1.000)">=</text>
<text class="c" transform="translate(105.81,736.30) scale(1.274,1.000)">1,</text>
<text class="c i" transform="translate(127.05,736.30) scale(1.298,1.000)">μ</text>
<text class="c" transform="translate(139.25,736.30) scale(1.711,1.000)">=</text>
<text class="c" transform="translate(154.34,736.30) scale(1.274,1.000)">0</text>
</g>
<g>
<g fill="none" stroke-width="1.0" stroke-opacity="0.62">
<path d="M263.22 684.83 265.87 672.91 268.52 662.78 271.05 654.85 272.38 651.37 273.70 648.33 275.03 645.71 276.35 643.50 277.80 641.52 279.24 639.97 280.69 638.80 282.25 637.94 283.82 637.46 285.39 637.31 287.43 637.55 289.72 638.32 292.13 639.59 294.78 641.40 299.60 645.41 310.08 655.19 315.14 659.66 320.56 663.99 325.86 667.69 331.04 670.80 336.46 673.53 342.00 675.83 347.90 677.82 355.13 679.70 362.96 681.19 371.63 682.36 381.50 683.26 392.59 683.89 405.84 684.32 422.10 684.59 443.78 684.74" stroke="#0000ff"/>
<path d="M263.22 622.86 264.43 622.92 265.75 623.17 268.40 624.19 271.17 625.90 274.30 628.43 276.83 630.83 279.84 633.98 291.53 647.16 297.19 653.21 303.09 658.88 308.87 663.72 314.53 667.75 320.32 671.19 326.34 674.12 332.72 676.60 336.58 677.83 340.55 678.92 349.10 680.75 358.74 682.16 369.82 683.21 382.23 683.91 397.40 684.37 416.56 684.64 443.78 684.78" stroke="#ff0000"/>
<path d="M263.22 584.12 271.05 607.66 276.11 621.52 278.76 628.05 281.41 634.03 284.06 639.48 286.71 644.40 289.60 649.21 292.49 653.48 295.50 657.40 298.76 661.10 302.13 664.43 305.62 667.38 309.35 670.07 313.21 672.41 317.06 674.38 321.16 676.14 325.50 677.67 330.19 679.04 335.13 680.19 340.55 681.20 346.45 682.05 352.84 682.75 366.81 683.73 384.52 684.34 407.76 684.66 443.78 684.80" stroke="#00ff00"/>
<path d="M263.22 529.90 268.28 564.89 270.45 578.61 272.62 591.31 274.79 602.93 276.95 613.44 279.12 622.87 281.29 631.27 283.58 639.07 285.99 646.22 288.52 652.65 291.05 658.10 293.70 662.91 296.59 667.24 299.60 670.90 302.85 674.05 305.62 676.19 308.51 677.99 311.64 679.53 315.14 680.86 318.87 681.93 322.97 682.78 327.54 683.44 332.84 683.95 343.44 684.48 358.74 684.74 443.78 684.83" stroke="#000000"/>
</g>
<rect x="256.00" y="519.10" width="195.00" height="172.10" fill="none" stroke="#b0b0b0" stroke-width="1.0"/>
<line x1="253.70" y1="684.83" x2="256.00" y2="684.83" stroke="#999" stroke-width="1.0"/>
<text class="r" text-anchor="middle" transform="translate(250.10,684.83) scale(1.12,1) rotate(-90)">0.0</text>
<line x1="253.70" y1="658.27" x2="256.00" y2="658.27" stroke="#999" stroke-width="1.0"/>
<text class="r" text-anchor="middle" transform="translate(250.10,658.27) scale(1.12,1) rotate(-90)">0.2</text>
<line x1="253.70" y1="631.71" x2="256.00" y2="631.71" stroke="#999" stroke-width="1.0"/>
<text class="r" text-anchor="middle" transform="translate(250.10,631.71) scale(1.12,1) rotate(-90)">0.4</text>
<line x1="253.70" y1="605.15" x2="256.00" y2="605.15" stroke="#999" stroke-width="1.0"/>
<text class="r" text-anchor="middle" transform="translate(250.10,605.15) scale(1.12,1) rotate(-90)">0.6</text>
<line x1="253.70" y1="578.59" x2="256.00" y2="578.59" stroke="#999" stroke-width="1.0"/>
<text class="r" text-anchor="middle" transform="translate(250.10,578.59) scale(1.12,1) rotate(-90)">0.8</text>
<line x1="253.70" y1="552.03" x2="256.00" y2="552.03" stroke="#999" stroke-width="1.0"/>
<text class="r" text-anchor="middle" transform="translate(250.10,552.03) scale(1.12,1) rotate(-90)">1.0</text>
<line x1="253.70" y1="525.47" x2="256.00" y2="525.47" stroke="#999" stroke-width="1.0"/>
<text class="r" text-anchor="middle" transform="translate(250.10,525.47) scale(1.12,1) rotate(-90)">1.2</text>
<line x1="293.31" y1="691.20" x2="293.31" y2="692.70" stroke="#999" stroke-width="1.0"/>
<text class="rx" text-anchor="middle" transform="translate(293.31,699.80) scale(1.07,1)">2</text>
<line x1="330.93" y1="691.20" x2="330.93" y2="692.70" stroke="#999" stroke-width="1.0"/>
<text class="rx" text-anchor="middle" transform="translate(330.93,699.80) scale(1.07,1)">4</text>
<line x1="368.55" y1="691.20" x2="368.55" y2="692.70" stroke="#999" stroke-width="1.0"/>
<text class="rx" text-anchor="middle" transform="translate(368.55,699.80) scale(1.07,1)">6</text>
<line x1="406.16" y1="691.20" x2="406.16" y2="692.70" stroke="#999" stroke-width="1.0"/>
<text class="rx" text-anchor="middle" transform="translate(406.16,699.80) scale(1.07,1)">8</text>
<line x1="443.78" y1="691.20" x2="443.78" y2="692.70" stroke="#999" stroke-width="1.0"/>
<text class="rx" text-anchor="middle" transform="translate(443.78,699.80) scale(1.07,1)">10</text>
<text class="rx" text-anchor="middle" transform="translate(353.50,708.70) scale(1.07,1)">x</text>
<text class="r" text-anchor="middle" transform="translate(240.10,605.15) scale(1.12,1) rotate(-90)">f(x)</text>
<rect x="377.70" y="526.40" width="66" height="44" fill="#fff" stroke="#b0b0b0" stroke-width="1.0"/>
<g stroke-width="1.0" stroke-opacity="0.62">
<line x1="384.70" y1="535.50" x2="399.40" y2="535.50" stroke="#0000ff"/>
<line x1="384.70" y1="544.20" x2="399.40" y2="544.20" stroke="#ff0000"/>
<line x1="384.70" y1="552.80" x2="399.40" y2="552.80" stroke="#00ff00"/>
<line x1="384.70" y1="561.40" x2="399.40" y2="561.40" stroke="#000000"/>
</g>
<text class="l" transform="translate(406.25,537.80) scale(1.060,1)">λ</text>
<text class="l" transform="translate(412.72,537.80) scale(1.060,1)" style="stroke-width:0.2px">=</text>
<text class="l" transform="translate(419.03,537.80) scale(1.431,1)" style="stroke-width:0.3px">-</text>
<text class="l" transform="translate(424.40,537.80) scale(1.060,1)">1</text>
<text class="l" transform="translate(406.25,546.50) scale(1.060,1)">λ</text>
<text class="l" transform="translate(412.72,546.50) scale(1.060,1)" style="stroke-width:0.2px">=</text>
<text class="l" transform="translate(419.03,546.50) scale(1.431,1)" style="stroke-width:0.3px">-</text>
<text class="l" transform="translate(424.39,546.50) scale(1.060,1)">0.2</text>
<text class="l" transform="translate(406.25,555.10) scale(1.060,1)">λ</text>
<text class="l" transform="translate(412.72,555.10) scale(1.060,1)" style="stroke-width:0.2px">=</text>
<text class="l" transform="translate(419.19,555.10) scale(1.060,1)">0.3</text>
<text class="l" transform="translate(406.25,563.70) scale(1.060,1)">λ</text>
<text class="l" transform="translate(412.72,563.70) scale(1.060,1)" style="stroke-width:0.2px">=</text>
<text class="l" transform="translate(421.80,563.70) scale(1.060,1)">1</text>
<text class="c" transform="translate(281.50,736.55) scale(1.180,1.120)">(</text>
<text class="c" transform="translate(287.12,736.30) scale(1.180,1.000)">h</text>
<text class="c" transform="translate(295.18,736.55) scale(1.180,1.120)">)</text>
<text class="c i" transform="translate(307.06,736.30) scale(1.003,1.000)">θ</text>
<text class="c" transform="translate(318.10,736.30) scale(1.711,1.000)">=</text>
<text class="c" transform="translate(333.50,736.30) scale(1.274,1.000)">1,</text>
<text class="c i" transform="translate(354.74,736.30) scale(1.298,1.000)">μ</text>
<text class="c" transform="translate(366.94,736.30) scale(1.711,1.000)">=</text>
<text class="c" transform="translate(382.03,736.30) scale(1.274,1.000)">0.4</text>
</g>
<g>
<g fill="none" stroke-width="1.0" stroke-opacity="0.62">
<path d="M496.82 684.83 498.99 674.85 501.28 666.24 503.69 659.07 506.10 653.59 507.42 651.21 508.75 649.23 510.07 647.62 511.52 646.23 512.96 645.21 514.53 644.45 516.09 644.02 517.78 643.87 519.83 644.08 522.12 644.71 524.53 645.75 527.30 647.29 532.11 650.55 543.08 658.84 548.38 662.63 554.04 666.31 559.58 669.48 565.00 672.15 570.54 674.46 576.32 676.48 582.34 678.20 589.81 679.88 597.88 681.24 606.79 682.33 616.91 683.18 628.11 683.79 641.24 684.23 657.14 684.52 677.38 684.70" stroke="#0000ff"/>
<path d="M496.82 624.83 499.95 627.17 503.57 630.41 507.54 634.40 518.02 645.59 523.32 650.99 529.10 656.40 534.76 661.11 538.02 663.54 541.39 665.84 544.76 667.94 548.13 669.84 551.63 671.62 555.24 673.25 558.85 674.71 562.71 676.07 566.80 677.34 571.02 678.46 580.17 680.38 590.41 681.87 601.98 682.98 614.98 683.75 630.76 684.27 650.40 684.58 677.38 684.75" stroke="#ff0000"/>
<path d="M496.82 587.34 498.99 596.12 501.28 604.59 503.57 612.29 505.98 619.64 508.51 626.57 511.04 632.77 513.69 638.55 516.34 643.69 519.11 648.44 522.12 652.97 525.25 657.06 528.50 660.74 531.87 664.03 535.49 667.03 539.34 669.75 543.44 672.17 547.41 674.13 551.63 675.87 556.20 677.44 561.02 678.79 566.20 679.96 571.86 680.98 578.01 681.85 584.63 682.56 599.33 683.60 617.75 684.26 641.72 684.62 677.38 684.78" stroke="#00ff00"/>
<path d="M496.82 534.85 498.63 550.72 500.44 565.14 502.24 578.18 504.17 590.70 506.10 601.89 508.14 612.45 510.31 622.29 512.48 630.89 514.77 638.77 517.18 645.90 519.59 651.99 522.24 657.65 525.01 662.57 527.90 666.80 531.03 670.51 534.40 673.68 537.29 675.86 540.30 677.68 543.68 679.30 547.29 680.64 551.15 681.72 555.48 682.61 560.30 683.31 565.84 683.85 577.16 684.43 593.18 684.72 677.38 684.83" stroke="#000000"/>
</g>
<rect x="489.60" y="519.10" width="195.00" height="172.10" fill="none" stroke="#b0b0b0" stroke-width="1.0"/>
<line x1="487.30" y1="684.83" x2="489.60" y2="684.83" stroke="#999" stroke-width="1.0"/>
<text class="r" text-anchor="middle" transform="translate(483.70,684.83) scale(1.12,1) rotate(-90)">0.0</text>
<line x1="487.30" y1="631.71" x2="489.60" y2="631.71" stroke="#999" stroke-width="1.0"/>
<text class="r" text-anchor="middle" transform="translate(483.70,631.71) scale(1.12,1) rotate(-90)">0.5</text>
<line x1="487.30" y1="578.59" x2="489.60" y2="578.59" stroke="#999" stroke-width="1.0"/>
<text class="r" text-anchor="middle" transform="translate(483.70,578.59) scale(1.12,1) rotate(-90)">1.0</text>
<line x1="487.30" y1="525.47" x2="489.60" y2="525.47" stroke="#999" stroke-width="1.0"/>
<text class="r" text-anchor="middle" transform="translate(483.70,525.47) scale(1.12,1) rotate(-90)">1.5</text>
<line x1="509.42" y1="691.20" x2="509.42" y2="692.70" stroke="#999" stroke-width="1.0"/>
<text class="rx" text-anchor="middle" transform="translate(509.42,699.80) scale(1.07,1)">2</text>
<line x1="551.41" y1="691.20" x2="551.41" y2="692.70" stroke="#999" stroke-width="1.0"/>
<text class="rx" text-anchor="middle" transform="translate(551.41,699.80) scale(1.07,1)">4</text>
<line x1="593.40" y1="691.20" x2="593.40" y2="692.70" stroke="#999" stroke-width="1.0"/>
<text class="rx" text-anchor="middle" transform="translate(593.40,699.80) scale(1.07,1)">6</text>
<line x1="635.39" y1="691.20" x2="635.39" y2="692.70" stroke="#999" stroke-width="1.0"/>
<text class="rx" text-anchor="middle" transform="translate(635.39,699.80) scale(1.07,1)">8</text>
<line x1="677.38" y1="691.20" x2="677.38" y2="692.70" stroke="#999" stroke-width="1.0"/>
<text class="rx" text-anchor="middle" transform="translate(677.38,699.80) scale(1.07,1)">10</text>
<text class="rx" text-anchor="middle" transform="translate(587.10,708.70) scale(1.07,1)">x</text>
<text class="r" text-anchor="middle" transform="translate(473.70,605.15) scale(1.12,1) rotate(-90)">f(x)</text>
<rect x="610.40" y="526.40" width="66" height="44" fill="#fff" stroke="#b0b0b0" stroke-width="1.0"/>
<g stroke-width="1.0" stroke-opacity="0.62">
<line x1="617.40" y1="535.50" x2="632.10" y2="535.50" stroke="#0000ff"/>
<line x1="617.40" y1="544.20" x2="632.10" y2="544.20" stroke="#ff0000"/>
<line x1="617.40" y1="552.80" x2="632.10" y2="552.80" stroke="#00ff00"/>
<line x1="617.40" y1="561.40" x2="632.10" y2="561.40" stroke="#000000"/>
</g>
<text class="l" transform="translate(638.95,537.80) scale(1.060,1)">λ</text>
<text class="l" transform="translate(645.42,537.80) scale(1.060,1)" style="stroke-width:0.2px">=</text>
<text class="l" transform="translate(651.73,537.80) scale(1.431,1)" style="stroke-width:0.3px">-</text>
<text class="l" transform="translate(657.10,537.80) scale(1.060,1)">1</text>
<text class="l" transform="translate(638.95,546.50) scale(1.060,1)">λ</text>
<text class="l" transform="translate(645.42,546.50) scale(1.060,1)" style="stroke-width:0.2px">=</text>
<text class="l" transform="translate(651.73,546.50) scale(1.431,1)" style="stroke-width:0.3px">-</text>
<text class="l" transform="translate(657.09,546.50) scale(1.060,1)">0.2</text>
<text class="l" transform="translate(638.95,555.10) scale(1.060,1)">λ</text>
<text class="l" transform="translate(645.42,555.10) scale(1.060,1)" style="stroke-width:0.2px">=</text>
<text class="l" transform="translate(651.89,555.10) scale(1.060,1)">0.3</text>
<text class="l" transform="translate(638.95,563.70) scale(1.060,1)">λ</text>
<text class="l" transform="translate(645.42,563.70) scale(1.060,1)" style="stroke-width:0.2px">=</text>
<text class="l" transform="translate(654.50,563.70) scale(1.060,1)">1</text>
<text class="c" transform="translate(517.27,736.55) scale(1.180,1.120)">(</text>
<text class="c" transform="translate(522.73,736.30) scale(1.180,1.000)">i</text>
<text class="c" transform="translate(527.40,736.55) scale(1.180,1.120)">)</text>
<text class="c i" transform="translate(539.28,736.30) scale(1.003,1.000)">θ</text>
<text class="c" transform="translate(550.32,736.30) scale(1.711,1.000)">=</text>
<text class="c" transform="translate(565.72,736.30) scale(1.274,1.000)">1,</text>
<text class="c i" transform="translate(586.96,736.30) scale(1.298,1.000)">μ</text>
<text class="c" transform="translate(599.16,736.30) scale(1.711,1.000)">=</text>
<text class="c" transform="translate(613.45,736.30) scale(1.274,1.000)">1.4</text>
</g>
</svg>
</body></html>
